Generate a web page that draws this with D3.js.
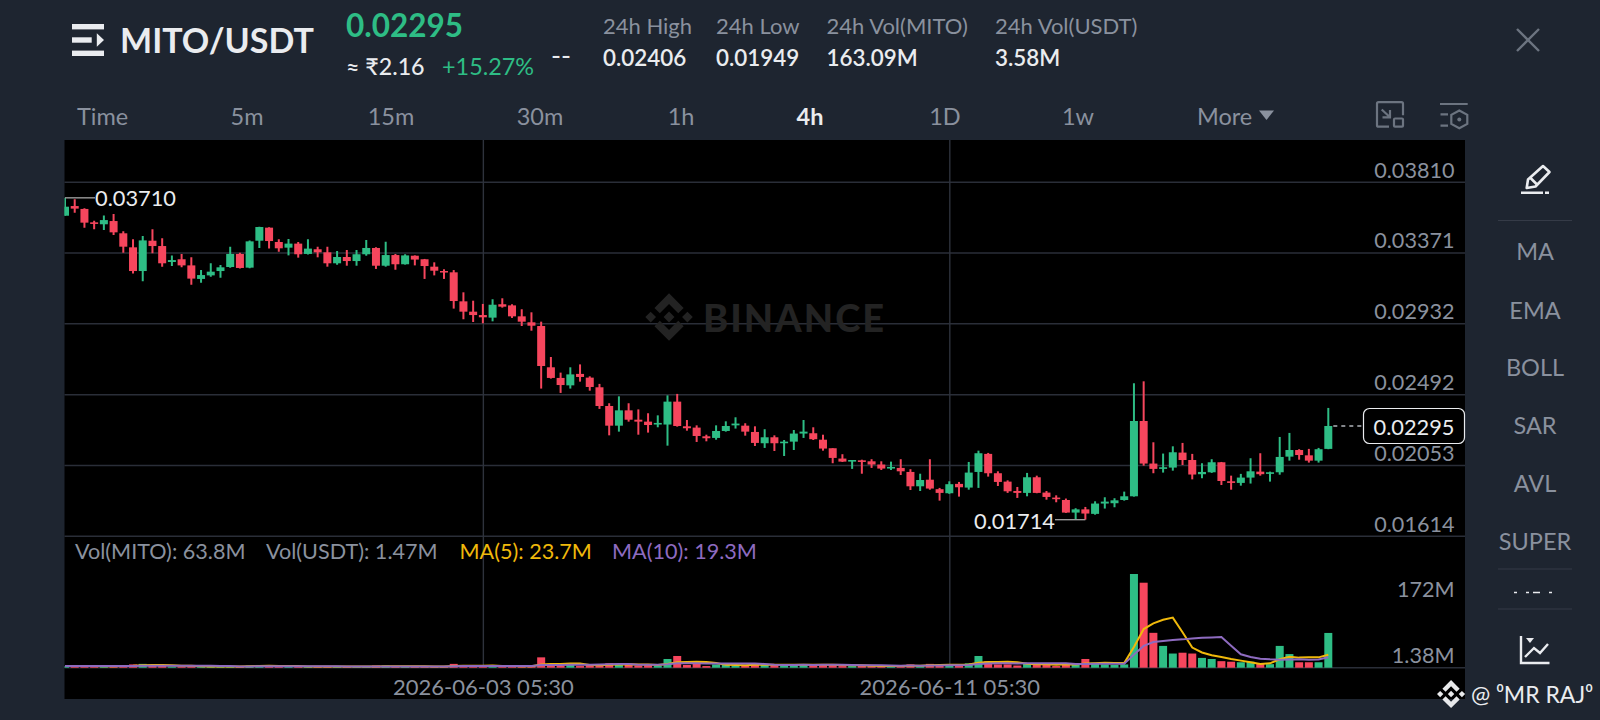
<!DOCTYPE html>
<html>
<head>
<meta charset="utf-8">
<title>MITO/USDT</title>
<script src="https://d3js.org/d3.v7.min.js"></script>
<style>
  html, body { margin: 0; padding: 0; background: #1e2530; overflow: hidden; }
  text { font-family: Lato, "Noto Sans", sans-serif; }
  .axis path.domain { display: none; }
</style>
</head>
<body>
<svg id="chart" width="1600" height="720"></svg>
<script>
// candles, oldest first
var opens = [
  .03599,.03659,.03641,.03558,.03546,.03566,.03490,.03403,.03256,.03444,
  .03411,.03312,.03329,.03291,.03207,.03229,.03256,.03281,.03362,.03277,
  .03444,.03525,.03436,.03401,.03426,.03362,.03391,.03372,.03304,.03343,
  .03318,.03360,.03399,.03289,.03355,.03298,.03351,.03329,.03283,.03256,
  .03248,.03068,.03004,.02983,.02967,.03050,.03043,.02975,.02938,.02915,
  .02659,.02593,.02547,.02618,.02595,.02535,.02419,.02297,.02392,.02334,
  .02322,.02304,.02304,.02446,.02293,.02285,.02231,.02221,.02264,.02299,
  .02297,.02258,.02188,.02225,.02188,.02198,.02248,.02250,.02210,.02157,
  .02093,.02074,.02082,.02076,.02056,.02031,.02035,.02010,.01921,.01962,
  .01903,.01878,.01936,.01913,.02010,.02122,.02002,.01950,.01892,.01880,
  .01977,.01882,.01851,.01836,.01758,.01778,.01750,.01814,.01816,.01836,
  .01859,.02326,.02062,.02029,.02037,.02130,.02084,.01996,.02008,.02070,
  .01952,.01942,.01975,.02012,.01998,.02008,.02105,.02146,.02113,.02080,.02153
];
var closes = [
  .03655,.03643,.03556,.03548,.03572,.03496,.03407,.03256,.03446,.03411,
  .03304,.03324,.03291,.03209,.03231,.03252,.03279,.03362,.03275,.03440,
  .03529,.03442,.03397,.03426,.03360,.03395,.03372,.03304,.03343,.03318,
  .03360,.03399,.03289,.03355,.03298,.03353,.03327,.03287,.03258,.03248,
  .03070,.03004,.02983,.02969,.03047,.03035,.02975,.02942,.02917,.02667,
  .02593,.02549,.02615,.02599,.02537,.02419,.02297,.02392,.02334,.02322,
  .02301,.02314,.02446,.02295,.02281,.02233,.02219,.02264,.02295,.02310,
  .02260,.02190,.02225,.02188,.02198,.02248,.02260,.02213,.02155,.02097,
  .02074,.02084,.02072,.02056,.02031,.02041,.02014,.01921,.01960,.01907,
  .01880,.01934,.01915,.02006,.02126,.02002,.01948,.01890,.01880,.01977,
  .01880,.01855,.01841,.01758,.01778,.01752,.01814,.01826,.01834,.01859,
  .02326,.02062,.02029,.02039,.02132,.02084,.01994,.02010,.02070,.01954,
  .01942,.01975,.02014,.01996,.02008,.02103,.02146,.02115,.02080,.02151,.02295
];
var highs = [
  .03710,.03701,.03645,.03568,.03601,.03610,.03502,.03453,.03473,.03515,
  .03459,.03353,.03362,.03341,.03262,.03304,.03293,.03407,.03370,.03446,
  .03531,.03527,.03453,.03455,.03436,.03453,.03407,.03407,.03380,.03386,
  .03386,.03448,.03403,.03438,.03362,.03360,.03353,.03331,.03310,.03267,
  .03262,.03124,.03072,.03052,.03081,.03087,.03050,.03019,.03000,.02942,
  .02723,.02626,.02659,.02677,.02603,.02556,.02436,.02479,.02436,.02398,
  .02374,.02361,.02485,.02494,.02332,.02299,.02241,.02299,.02324,.02349,
  .02312,.02293,.02275,.02237,.02208,.02270,.02332,.02287,.02241,.02157,
  .02120,.02084,.02086,.02089,.02076,.02074,.02089,.02027,.01999,.02089,
  .01911,.01952,.01948,.02072,.02142,.02128,.02014,.01958,.01917,.02004,
  .01987,.01892,.01865,.01845,.01785,.01793,.01828,.01853,.01847,.01888,
  .02560,.02572,.02194,.02124,.02169,.02190,.02122,.02064,.02089,.02072,
  .01987,.01998,.02095,.02126,.02012,.02227,.02252,.02151,.02153,.02159,.02407
];
var lows = [
  .03599,.03618,.03525,.03515,.03510,.03479,.03370,.03240,.03192,.03366,
  .03283,.03287,.03279,.03171,.03184,.03221,.03215,.03277,.03271,.03273,
  .03399,.03395,.03376,.03353,.03339,.03358,.03341,.03283,.03295,.03289,
  .03289,.03351,.03269,.03283,.03264,.03296,.03291,.03207,.03229,.03207,
  .03023,.02957,.02940,.02932,.02944,.03029,.02965,.02915,.02886,.02527,
  .02589,.02500,.02527,.02570,.02514,.02401,.02237,.02260,.02322,.02241,
  .02254,.02287,.02173,.02291,.02266,.02196,.02200,.02210,.02260,.02279,
  .02235,.02171,.02159,.02140,.02109,.02146,.02221,.02208,.02142,.02064,
  .02072,.02029,.01999,.02035,.02022,.02022,.01991,.01898,.01892,.01900,
  .01832,.01874,.01857,.01900,.01911,.01981,.01923,.01880,.01849,.01859,
  .01878,.01838,.01822,.01756,.01716,.01714,.01745,.01783,.01791,.01832,
  .01857,.02049,.02002,.02006,.02018,.02053,.01964,.01971,.02004,.01929,
  .01900,.01925,.01938,.01987,.01950,.01993,.02080,.02086,.02068,.02068,.02151
];
// volume in millions
var vols = [
  3,2,4,2,2,4,4,6,7,4,
  4,2,2,3,2,2,2,3,2,4,
  5,3,2,2,3,2,2,3,2,2,
  2,2,4,4,2,2,2,3,2,1.5,
  7,4,3,3,4,2,3,2,3,19,
  7,4,5,3,5,6,8,7,5,4,
  5,4,16,21.5,5,7,3,6,5,4,
  5,6,6,5,4,6,5,5,6,6,
  3,3,4,3,3,2,3,6,5,7,
  4,6,4,8,21.5,12,6,6,4,8,
  8,5,3,7,7,16,9,6,5,6,
  172,156,64,40,26,27.5,26,18,16,12,
  11,10,11,7,6.5,40,25,10,10,10,63.8
];
var ma5 = [
  3,3,3,3,2.6,2.8,3.2,3.6,4.6,5,
  5,4.6,3.8,3.4,2.6,2.2,2.2,2.4,2.2,2.6,
  3.2,3.4,3.2,3.2,3,2.4,2.2,2.4,2.4,2.2,
  2.2,2.2,2.4,2.8,2.8,2.8,2.8,2.6,2.2,2.1,
  3.1,3.5,3.5,3.7,4.2,3.2,3,2.8,2.8,5.8,
  6.8,7,7.6,7.6,4.8,4.6,5.4,5.8,6.2,6,
  5.8,5,6.8,10.2,10.3,10.7,10.5,8.5,5.2,5,
  4.6,5.2,5.2,5.2,5.2,5.4,5.2,5.2,5.2,5.6,
  5,4.6,4.4,3.8,3.2,3,3,3.4,3.8,4.6,
  5,5.6,5.2,5.8,9,10.3,10.3,10.7,10,7.2,
  6.4,6.2,5.6,6.2,6,7.6,8.4,9,8.6,8.4,
  38,71,81.5,88,92,65,37,28,23,19.6,
  16,13,10,7,8,15.5,20,18.5,19,19,23.7
];
var ma10 = [
  3,3,3,3,3,2.9,3.1,3.3,3.6,3.6,
  3.7,3.7,3.5,3.6,3.6,3.4,3.2,2.9,2.4,2.4,
  2.5,2.6,2.6,2.5,2.6,2.6,2.6,2.6,2.6,2.4,
  2.1,2,2.2,2.4,2.3,2.3,2.3,2.3,2.3,2.25,
  2.8,3,3,2.9,3.1,3.1,3.2,3.1,3.2,4.9,
  5,5,5.2,5.2,5.3,5.7,6.2,6.7,6.9,5.4,
  5.2,5.2,6.3,8.2,8.2,8.3,7.8,7.7,7.7,7.7,
  7.65,7.85,6.85,5.2,5.1,5,5.2,5.1,5.2,5.4,
  5.2,4.9,4.7,4.5,4.4,4,3.8,3.9,3.8,3.9,
  4,4.3,4.3,4.8,6.65,7.65,7.95,7.95,7.85,7.95,
  8.35,8.25,8.15,8.05,6.6,7,7.3,7.3,7.4,7.2,
  24,40,47,49,51,52,53.6,55,55.6,56.4,
  40.4,24.6,19.6,16.5,15.4,14.7,15,15.5,14.5,15,19.3
];

var priceTicks = [0.0381, 0.03371, 0.02932, 0.02492, 0.02053, 0.01614];
var volTicks = [172, 1.38];
var volTickLabels = ["172M", "1.38M"];
var timeTicks = [43, 91];
var timeLabels = ["2026-06-03 05:30", "2026-06-11 05:30"];
var tabs = ["5m", "15m", "30m", "1h", "4h", "1D", "1w"];
var tabCenters = [247, 391, 540, 681, 810, 945, 1078];
var stats = ["24h High", "24h Low", "24h Vol(MITO)", "24h Vol(USDT)"];
var statValues = ["0.02406", "0.01949", "163.09M", "3.58M"];
var statLefts = [603, 716, 826.5, 995];
var sideItems = ["MA", "EMA", "BOLL", "SAR", "AVL", "SUPER"];
var sideCenters = [250.5, 309.5, 366.5, 425, 482.5, 540.5];
var legend = [
  {label: "Vol(MITO): 63.8M", x: 75, color: "#8a919e"},
  {label: "Vol(USDT): 1.47M", x: 266, color: "#8a919e"},
  {label: "MA(5): 23.7M", x: 459.5, color: "#f0b90b"},
  {label: "MA(10): 19.3M", x: 612, color: "#8e6bc0"}
];

var green = "#2ebd85", red = "#f6465d", gray = "#8a919e", soft = "#eaecef";
var panelL = 64.5, panelR = 1465, panelT = 140, panelB = 699, volBase = 667.7;

var svg = d3.select("#chart");

function label(parent, str, x, y, size, color, opts) {
  opts = opts || {};
  return parent.append("text")
    .attr("x", x).attr("y", y)
    .attr("dominant-baseline", "central")
    .attr("text-anchor", opts.anchor || "start")
    .attr("font-size", size)
    .attr("font-weight", opts.weight || 400)
    .attr("fill", color)
    .text(str);
}

// header
var head = svg.append("g");
head.append("rect").attr("x", 72).attr("y", 24).attr("width", 32).attr("height", 5.4).attr("fill", soft);
head.append("rect").attr("x", 72).attr("y", 37.3).attr("width", 19.7).attr("height", 5.4).attr("fill", soft);
head.append("rect").attr("x", 72).attr("y", 50.6).attr("width", 32).attr("height", 5.4).attr("fill", soft);
head.append("path").attr("d", "M96.8 33.3L104 40L96.8 46.7Z").attr("fill", soft);
label(head, "MITO/USDT", 120, 39.5, 34, soft, {weight: 700});
label(head, "0.02295", 346, 24.5, 31.5, green, {weight: 700});
label(head, "≈ ₹2.16", 346, 65.5, 23.2, soft, {weight: 500});
label(head, "+15.27%", 442, 65.5, 23.4, green);
label(head, "--", 551, 54, 27, soft);

stats.forEach(function (s, i) {
  label(head, s, statLefts[i], 25, 22, gray);
  label(head, statValues[i], statLefts[i], 57, 22.4, soft, {weight: 600});
});

// time tabs
label(head, "Time", 77, 116, 23.5, gray);
tabs.forEach(function (t, i) {
  label(head, t, tabCenters[i], 116, 23.5, t === "4h" ? soft : gray, {anchor: "middle", weight: t === "4h" ? 700 : 400});
});
label(head, "More", 1197, 116, 23.5, gray);
head.append("path").attr("d", "M1259 110.5h15l-7.5 9.5z").attr("fill", gray);

var ic = "#6c7480";
head.append("path")
  .attr("d", "M1389 126.7h-10.5a1.5 1.5 0 0 1-1.5-1.5v-21.5a1.5 1.5 0 0 1 1.5-1.5h23a1.5 1.5 0 0 1 1.5 1.5v11.5M1381.7 109.5l8.3 7.8M1390 110v7.3h-7.5")
  .attr("fill", "none").attr("stroke", ic).attr("stroke-width", 2.2);
head.append("rect").attr("x", 1394).attr("y", 118.5).attr("width", 9).attr("height", 8.2).attr("rx", 1).attr("fill", "none").attr("stroke", ic).attr("stroke-width", 2.2);
head.append("path")
  .attr("d", "M1440 104h27.7M1440.5 114.3h7.5M1440.5 125.7h7.5")
  .attr("fill", "none").attr("stroke", ic).attr("stroke-width", 2.2);
head.append("path")
  .attr("d", "M1459.3 110.5l8 4.4v9l-8 4.4l-8-4.4v-9z")
  .attr("fill", "none").attr("stroke", ic).attr("stroke-width", 2.2);
head.append("circle").attr("cx", 1459.3).attr("cy", 119.4).attr("r", 2).attr("fill", ic);
head.append("path").attr("d", "M1517 29l22 22M1539 29l-22 22").attr("stroke", ic).attr("stroke-width", 2.4);

// chart panel
svg.append("rect")
  .attr("x", panelL).attr("y", panelT)
  .attr("width", panelR - panelL).attr("height", panelB - panelT)
  .attr("fill", "#000");

svg.append("clipPath").attr("id", "panel").append("rect")
  .attr("x", panelL).attr("y", panelT)
  .attr("width", panelR - panelL).attr("height", panelB - panelT);

var x = d3.scaleLinear().domain([0, 130]).range([65, 1328.3]);
var y = d3.scaleLinear().domain([0.01614, 0.0381]).range([535.8, 181.7]);
var v = d3.scaleLinear().domain([0, 172]).range([volBase, 574]);

// grid and axis labels
var yAxis = d3.axisLeft(y)
  .tickValues(priceTicks)
  .tickSize(panelR - panelL)
  .tickFormat(d3.format(".5f"));
var yG = svg.append("g").attr("class", "axis")
  .attr("transform", "translate(" + panelR + ",0)")
  .call(yAxis);
yG.selectAll("line").attr("stroke", "#2a2e38").attr("stroke-width", 1.4);
yG.selectAll("text")
  .attr("x", -10.5).attr("dy", 0).attr("y", -12.5)
  .attr("dominant-baseline", "central")
  .attr("text-anchor", "end")
  .attr("font-size", 21.6).attr("fill", gray);

var xAxis = d3.axisBottom(x)
  .tickValues(timeTicks)
  .tickSize(panelT - volBase)
  .tickFormat(function (d, i) { return timeLabels[i]; });
var xG = svg.append("g").attr("class", "axis")
  .attr("transform", "translate(0," + volBase + ")")
  .call(xAxis);
xG.selectAll("line").attr("stroke", "#2e323c").attr("stroke-width", 1.4);
xG.selectAll("text")
  .attr("y", 19).attr("dy", 0)
  .attr("dominant-baseline", "central")
  .attr("font-size", 22).attr("fill", gray);

svg.append("line")
  .attr("x1", panelL).attr("x2", panelR)
  .attr("y1", volBase).attr("y2", volBase)
  .attr("stroke", "#2a2e38").attr("stroke-width", 1.4);

// watermark
var logo = "M38.73 53.2l24.59-24.58 24.6 24.6 14.3-14.31L63.32 0 24.43 38.9zM0 63.31l14.3-14.31 14.31 14.31-14.31 14.3zM38.73 73.41l24.59 24.59 24.6-24.6 14.31 14.29-38.9 38.91-38.9-38.88zM98 63.31l14.3-14.31 14.31 14.31-14.3 14.3zM77.83 63.3L63.32 48.78 52.59 59.51l-1.24 1.23-2.54 2.54 14.51 14.5 14.51-14.47z";
svg.append("path").attr("d", logo)
  .attr("transform", "translate(645.3,293.3) scale(.375)")
  .attr("fill", "#232323");
label(svg, "BINANCE", 703, 317, 38, "#232323", {weight: 900}).attr("letter-spacing", 2);

var plot = svg.append("g").attr("clip-path", "url(#panel)");
var idx = d3.range(opens.length);

// wicks
plot.selectAll(".wick").data(idx).enter().append("line")
  .attr("class", "wick")
  .attr("x1", function (i) { return x(i); })
  .attr("x2", function (i) { return x(i); })
  .attr("y1", function (i) { return y(highs[i]); })
  .attr("y2", function (i) { return y(lows[i]); })
  .attr("stroke-width", 2)
  .attr("stroke", function (i) { return closes[i] >= opens[i] ? green : red; });

// bodies
plot.selectAll(".body").data(idx).enter().append("rect")
  .attr("class", "body")
  .attr("x", function (i) { return x(i) - 4; })
  .attr("width", 8)
  .attr("y", function (i) { return y(Math.max(opens[i], closes[i])); })
  .attr("height", function (i) { return Math.max(1.5, Math.abs(y(opens[i]) - y(closes[i]))); })
  .attr("fill", function (i) { return closes[i] >= opens[i] ? green : red; });

// volume bars
plot.selectAll(".vol").data(idx).enter().append("rect")
  .attr("class", "vol")
  .attr("x", function (i) { return x(i) - 4; })
  .attr("width", 8)
  .attr("y", function (i) { return v(vols[i]); })
  .attr("height", function (i) { return volBase - v(vols[i]); })
  .attr("fill", function (i) { return closes[i] >= opens[i] ? green : red; });

// moving averages of volume
var maLine = d3.line().x(function (d, i) { return x(i); }).y(function (d) { return v(d); });
plot.append("path").attr("d", maLine(ma5)).attr("fill", "none").attr("stroke", "#f0b90b").attr("stroke-width", 2);
plot.append("path").attr("d", maLine(ma10)).attr("fill", "none").attr("stroke", "#8e6bc0").attr("stroke-width", 2);

// high and low markers
svg.append("line").attr("x1", x(0)).attr("x2", 95).attr("y1", y(highs[0])).attr("y2", y(highs[0])).attr("stroke", "#9a9a9a").attr("stroke-width", 1.4);
label(svg, d3.format(".5f")(highs[0]), 95, y(highs[0]), 21.8, soft);
svg.append("line").attr("x1", 1055).attr("x2", x(105)).attr("y1", y(lows[105])).attr("y2", y(lows[105])).attr("stroke", "#9a9a9a").attr("stroke-width", 1.4);
label(svg, d3.format(".5f")(lows[105]), 1055, y(lows[105]) + 1, 21.8, soft, {anchor: "end"});

// last price tag
var lastY = y(closes[130]);
svg.append("line").attr("x1", x(130) + 5).attr("x2", 1363).attr("y1", lastY).attr("y2", lastY)
  .attr("stroke", "#b0b4ba").attr("stroke-width", 1.4).attr("stroke-dasharray", "4 4");
svg.append("rect").attr("x", 1363.5).attr("y", lastY - 17.5).attr("width", 101).attr("height", 35).attr("rx", 6)
  .attr("fill", "#000").attr("stroke", soft).attr("stroke-width", 1.2);
label(svg, d3.format(".5f")(closes[130]), 1454.5, lastY + .5, 21.8, soft, {anchor: "end"});

// volume legend and labels
legend.forEach(function (d) { label(svg, d.label, d.x, 550.5, 21.6, d.color); });
label(svg, volTickLabels[0], 1454.5, v(volTicks[0]) + 14.5, 21.6, gray, {anchor: "end"});
label(svg, volTickLabels[1], 1454.5, v(volTicks[1]) - 11.5, 21.6, gray, {anchor: "end"});

// side tools
sideItems.forEach(function (s, i) {
  label(svg, s, 1535, sideCenters[i], 23.5, gray, {anchor: "middle"});
});
[220.5, 569, 609].forEach(function (yy) {
  svg.append("line").attr("x1", 1498).attr("x2", 1572).attr("y1", yy).attr("y2", yy).attr("stroke", "#353b47").attr("stroke-width", 1.2);
});
svg.append("path").attr("d", "M1514 592.5h3M1526 592.5h3M1533 592.5h7M1549 592.5h3").attr("stroke", soft).attr("stroke-width", 1.4);

// pencil
svg.append("path")
  .attr("d", "M1526.7 188l1.3-8.5L1543 166l6.5 6l-14 14.5z M1530.5 178l6 6")
  .attr("fill", "none").attr("stroke", soft).attr("stroke-width", 2.6).attr("stroke-linejoin", "round");
svg.append("path").attr("d", "M1521 192.7h22M1545 192.7h4").attr("stroke", soft).attr("stroke-width", 2.4);

// chart tool icon
svg.append("path")
  .attr("d", "M1521 636v27h28.5M1525 657l9-9l6 5l8-9")
  .attr("fill", "none").attr("stroke", soft).attr("stroke-width", 2.4);
svg.append("path").attr("d", "M1526 638h8l-4 5z").attr("fill", soft);

// watermark bottom right
svg.append("path").attr("d", logo)
  .attr("transform", "translate(1437,680) scale(.222)")
  .attr("fill", "#e8e9eb");
label(svg, "@ ⁰MR RAJ⁰", 1471, 694, 23, soft);
</script>
</body>
</html>
